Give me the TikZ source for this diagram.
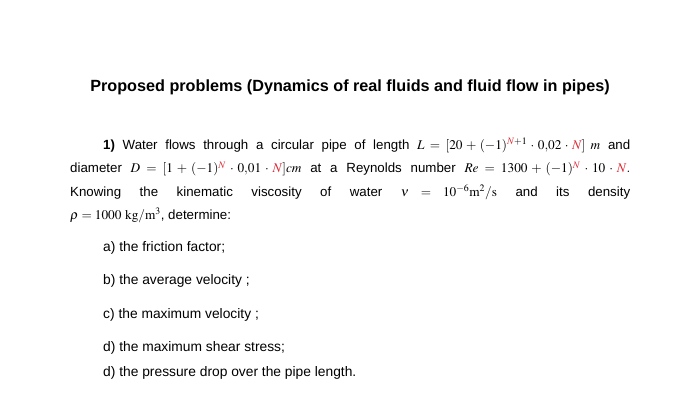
\documentclass[tikz,border=0pt]{standalone}
\usepackage{mathptmx}
\usepackage{fontspec}
\setmainfont{Liberation Sans}
\usepackage{xcolor}
\definecolor{nred}{RGB}{220,40,50}
\newcommand{\NN}{\textcolor{nred}{N}}
\begin{document}
\begin{tikzpicture}[x=1pt,y=1pt,
  item/.style={anchor=west,font=\fontsize{13.8}{15}\selectfont,inner sep=0pt}]
\useasboundingbox (0,0) rectangle (700,412);
\node[font=\fontsize{16.2}{18}\selectfont\bfseries] (title) at (350,325) {Proposed problems (Dynamics of real fluids and fluid flow in pipes)};
\node[anchor=north west,inner sep=0pt,text width=560pt,align=justify,font=\fontsize{13.3}{23.3}\selectfont] (para) at (70,274)
{\hspace*{33pt}\textbf{1)} Water flows through a circular pipe of length $L=[20+(-1)^{\NN+1}\cdot 0{,}02\cdot \NN]\;m$ and\linebreak diameter $D=[1+(-1)^{\NN}\cdot 0{,}01\cdot \NN]cm$ at a Reynolds number $Re=1300+(-1)^{\NN}\cdot 10\cdot \NN.$\linebreak Knowing the kinematic viscosity of water $\nu=10^{-6}\mathrm{m^2/s}$ and its density\linebreak $\rho=1000\ \mathrm{kg/m^3}$, determine:};
\node[item] (a) at (103,164) {a) the friction factor;};
\node[item] (b) at (103,131) {b) the average velocity ;};
\node[item] (c) at (103,97) {c) the maximum velocity ;};
\node[item] (d) at (103,64) {d) the maximum shear stress;};
\node[item] (e) at (103,39) {d) the pressure drop over the pipe length.};
\end{tikzpicture}
\end{document}
